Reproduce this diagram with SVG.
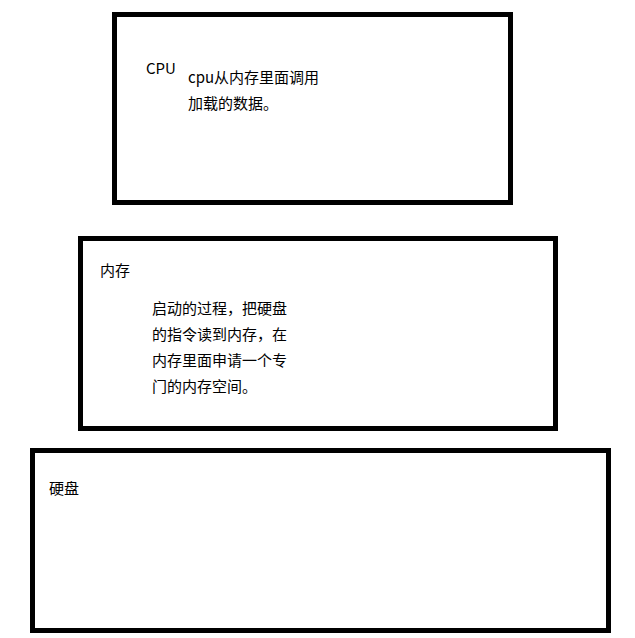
<svg xmlns="http://www.w3.org/2000/svg" width="635" height="638" viewBox="0 0 635 638">
<style>
.box{fill:#fff;stroke:#000;stroke-width:5}
.t{font-family:"Noto Sans CJK SC","Noto Sans",sans-serif;font-size:15px;fill:#000}
</style>
<rect width="635" height="638" fill="#fff"/>
<g id="cpu">
<rect class="box" x="114.5" y="14.5" width="396" height="188"/>
<text class="t" x="146" y="74">CPU</text>
<text class="t" x="188" y="82.5">cpu从内存里面调用</text>
<text class="t" x="188" y="108.5">加载的数据。</text>
</g>
<g id="memory">
<rect class="box" x="80.5" y="238.5" width="475" height="190"/>
<text class="t" x="100" y="276">内存</text>
<text class="t" x="152" y="314">启动的过程，把硬盘</text>
<text class="t" x="152" y="340">的指令读到内存，在</text>
<text class="t" x="152" y="366">内存里面申请一个专</text>
<text class="t" x="152" y="392">门的内存空间。</text>
</g>
<g id="disk">
<rect class="box" x="32.5" y="450.5" width="576" height="180"/>
<text class="t" x="49" y="494">硬盘</text>
</g>
<g id="connectors"/>
</svg>
